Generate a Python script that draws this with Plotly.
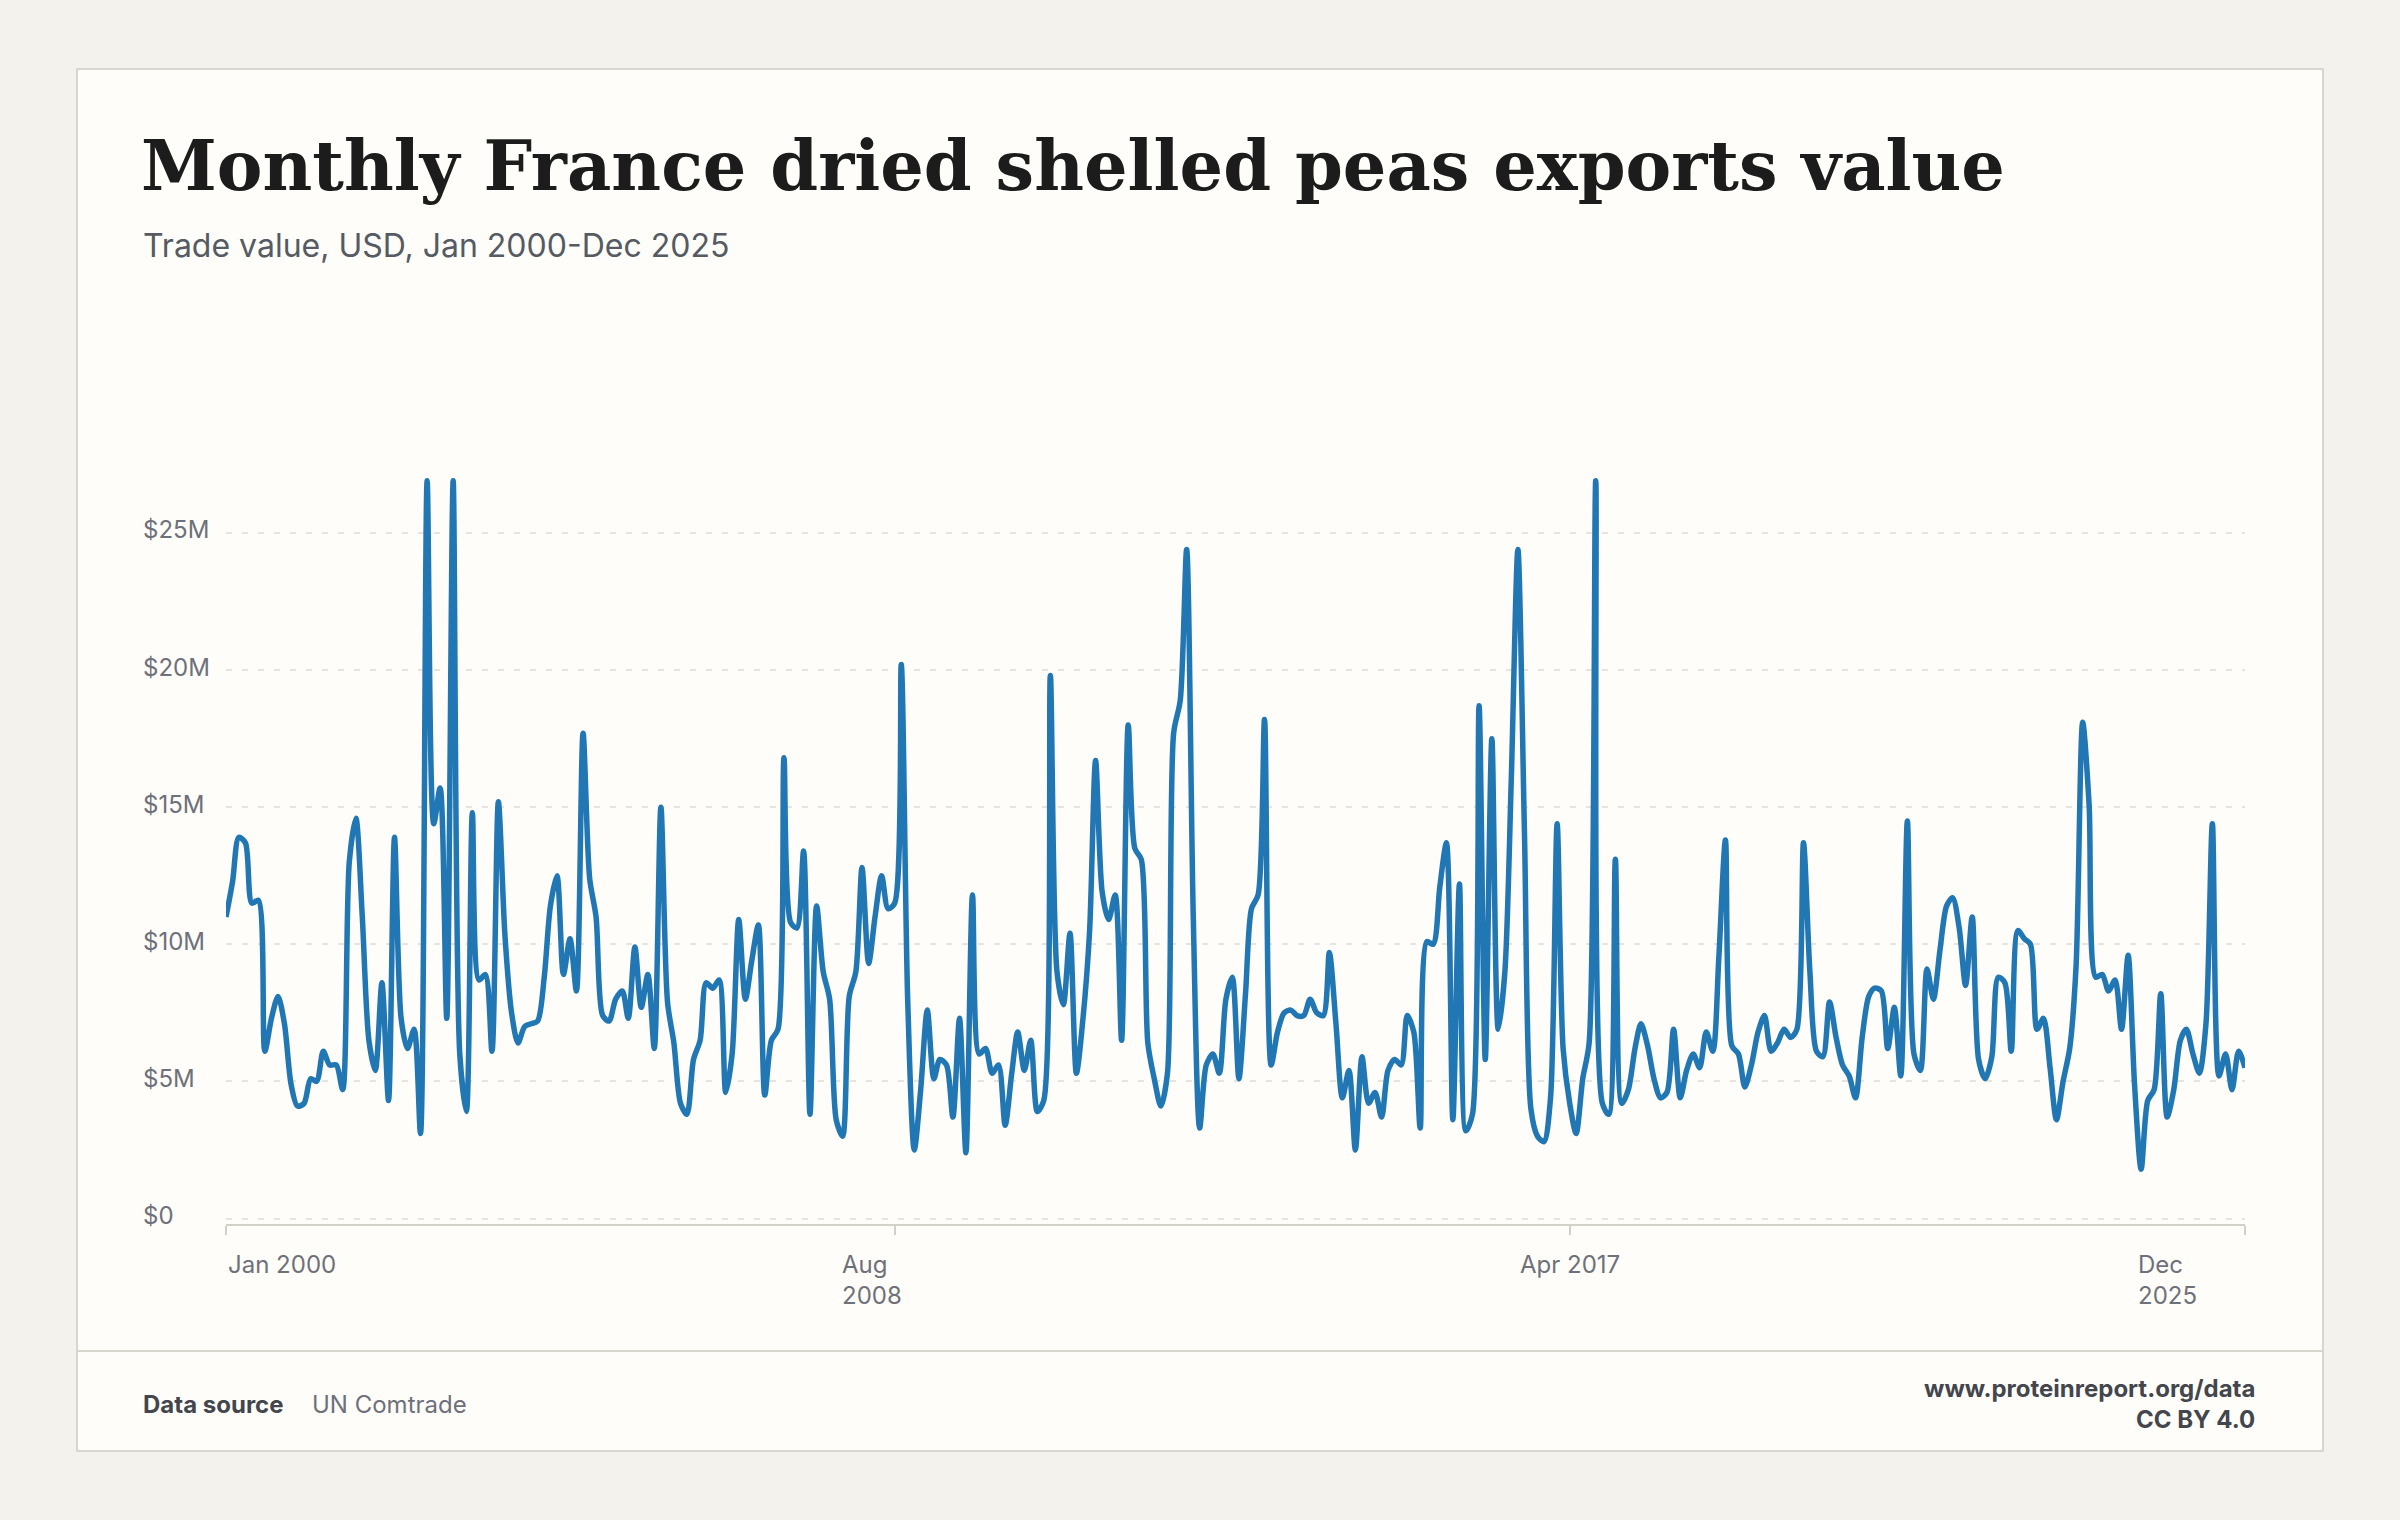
import pandas as pd
import plotly.graph_objects as go

# ---- data (USD millions), Jan 2000 .. Dec 2025 ----
start_month = "2000-01-01"
values_musd = [
    11.0, 12.3, 13.9, 13.7, 11.5, 11.6, 6.1, 7.3, 8.1, 7.1, 4.9, 4.1,      # 2000
    4.2, 5.1, 5.0, 6.1, 5.6, 5.6, 4.7, 13.0, 14.6, 11.0, 6.5, 5.4,         # 2001
    8.6, 4.3, 13.9, 7.3, 6.2, 6.9, 3.1, 26.9, 14.4, 15.7, 7.3, 26.9,       # 2002
    6.0, 3.9, 14.8, 8.7, 8.9, 6.1, 15.2, 10.3, 7.5, 6.4, 7.0, 7.1,         # 2003
    7.2, 8.8, 11.4, 12.5, 8.9, 10.2, 8.3, 17.7, 12.4, 11.0, 7.4, 7.2,      # 2004
    8.0, 8.3, 7.3, 9.9, 7.7, 8.9, 6.2, 15.0, 7.9, 6.4, 4.2, 3.8,           # 2005
    5.8, 6.5, 8.6, 8.4, 8.7, 4.6, 6.0, 10.9, 8.0, 9.4, 10.7, 4.5,          # 2006
    6.5, 6.9, 16.8, 10.8, 10.6, 13.4, 3.8, 11.4, 9.0, 8.0, 3.6, 3.0,       # 2007
    8.1, 9.0, 12.8, 9.3, 11.0, 12.5, 11.3, 11.5, 20.2, 8.0, 2.5, 4.7,      # 2008
    7.6, 5.1, 5.8, 5.6, 3.7, 7.3, 2.4, 11.8, 6.0, 6.2, 5.3, 5.6,           # 2009
    3.4, 5.3, 6.8, 5.4, 6.5, 3.9, 4.3, 19.8, 9.0, 7.8, 10.4, 5.3,          # 2010
    7.3, 10.5, 16.7, 11.9, 10.9, 11.8, 6.5, 18.0, 13.5, 13.1, 6.4, 5.1,    # 2011
    4.1, 5.3, 17.7, 18.9, 24.4, 11.0, 3.3, 5.6, 6.0, 5.3, 8.0, 8.8,        # 2012
    5.1, 8.2, 11.3, 11.8, 18.2, 5.6, 6.8, 7.5, 7.6, 7.4, 7.4, 8.0,         # 2013
    7.5, 7.4, 9.7, 7.1, 4.4, 5.4, 2.5, 5.9, 4.2, 4.6, 3.7, 5.4,            # 2014
    5.8, 5.6, 7.4, 6.8, 3.3, 10.1, 10.0, 12.1, 13.7, 3.6, 12.2, 3.2,       # 2015
    3.8, 18.7, 5.8, 17.5, 6.9, 9.0, 16.0, 24.4, 14.0, 4.0, 3.0, 2.8,       # 2016
    4.4, 14.4, 6.2, 4.2, 3.1, 5.1, 6.4, 26.9, 4.2, 3.8, 13.1, 4.2,         # 2017
    4.7, 6.2, 7.1, 6.3, 5.1, 4.4, 4.6, 6.9, 4.4, 5.4, 6.0, 5.5,            # 2018
    6.8, 6.1, 9.5, 13.8, 6.3, 6.0, 4.8, 5.6, 6.8, 7.4, 6.1, 6.4,           # 2019
    6.9, 6.6, 6.9, 13.7, 9.0, 6.1, 5.9, 7.9, 6.6, 5.6, 5.2, 4.4,           # 2020
    6.6, 8.1, 8.4, 8.3, 6.2, 7.7, 5.2, 14.5, 6.0, 5.4, 9.1, 8.0,           # 2021
    9.8, 11.4, 11.7, 10.6, 8.5, 11.0, 5.8, 5.1, 5.9, 8.8, 8.6, 6.1,        # 2022
    10.5, 10.2, 10.0, 6.9, 7.3, 5.5, 3.6, 5.0, 6.2, 9.2, 18.1, 15.1,       # 2023
    8.8, 8.9, 8.3, 8.7, 6.9, 9.6, 4.9, 1.8, 4.3, 4.7, 8.2, 3.7,            # 2024
    4.7, 6.5, 6.9, 6.0, 5.3, 7.1, 14.4, 5.2, 6.0, 4.7, 6.1, 5.5,           # 2025
]
months = pd.date_range(start_month, periods=len(values_musd), freq="MS")
values_usd = [v * 1e6 for v in values_musd]

y_tick_values = [0, 5e6, 10e6, 15e6, 20e6, 25e6]
y_tick_labels = ["$0", "$5M", "$10M", "$15M", "$20M", "$25M"]
x_tick_dates = ["2000-01-01", "2008-08-01", "2017-04-01", "2025-12-01"]
x_tick_labels = ["Jan 2000", "Aug<br>2008", "Apr 2017", "Dec<br>2025"]

title_text = "Monthly France dried shelled peas exports value"
subtitle_text = "Trade value, USD, Jan 2000-Dec 2025"

# ---- layout geometry (pixels) ----
W, H = 2400, 1520
ML, MR, MT, MB = 226, 155, 437, 296
PW, PH = W - ML - MR, H - MT - MB


def px(x):
    return (x - ML) / PW


def py(y):
    return (H - MB - y) / PH


OUTER_BG = "#f4f2ed"
CARD_BG = "#fefdf9"
BORDER = "#d9d6ce"
LINE = "#2077b4"
GRID = "#e7e4dd"
TICK_TXT = "#6e707a"
SANS = "Inter, Roboto, sans-serif"
SERIF = "DejaVu Serif, serif"

fig = go.Figure()
fig.add_trace(go.Scatter(
    x=months, y=values_usd, mode="lines",
    line=dict(color=LINE, width=5.5, shape="spline", smoothing=0.8),
    hoverinfo="skip", showlegend=False,
))

shapes = [
    # card
    dict(type="rect", xref="paper", yref="paper", layer="below",
         x0=px(77), x1=px(2323), y0=py(69), y1=py(1451),
         fillcolor=CARD_BG, line=dict(color=BORDER, width=2)),
    # footer divider
    dict(type="line", xref="paper", yref="paper", layer="below",
         x0=px(77), x1=px(2323), y0=py(1351), y1=py(1351),
         line=dict(color=BORDER, width=2)),
]

annotations = [
    dict(text="<b>" + title_text + "</b>", xref="paper", yref="paper", x=px(139), y=py(166),
         xanchor="left", yanchor="middle", showarrow=False,
         font=dict(family=SERIF, size=68.5, color="#1c1c1c")),
    dict(text=subtitle_text, xref="paper", yref="paper", x=px(141), y=py(246),
         xanchor="left", yanchor="middle", showarrow=False,
         font=dict(family=SANS, size=32, color="#555a63")),
    dict(text="<b>Data source</b>", xref="paper", yref="paper", x=px(141), y=py(1404),
         xanchor="left", yanchor="middle", showarrow=False,
         font=dict(family=SANS, size=24, color="#44464e")),
    dict(text="UN Comtrade", xref="paper", yref="paper", x=px(310), y=py(1404),
         xanchor="left", yanchor="middle", showarrow=False,
         font=dict(family=SANS, size=24, color="#6e707a")),
    dict(text="<b>www.proteinreport.org/data</b>", xref="paper", yref="paper",
         x=px(2257), y=py(1388), xanchor="right", yanchor="middle", showarrow=False,
         font=dict(family=SANS, size=24, color="#44464e")),
    dict(text="<b>CC BY 4.0</b>", xref="paper", yref="paper",
         x=px(2257), y=py(1419), xanchor="right", yanchor="middle", showarrow=False,
         font=dict(family=SANS, size=24, color="#44464e")),
]

for v, lab in zip(y_tick_values, y_tick_labels):
    annotations.append(dict(text=lab, xref="paper", yref="y", x=px(141), y=v,
                            xanchor="left", yanchor="middle", yshift=3, showarrow=False,
                            font=dict(family=SANS, size=24, color=TICK_TXT)))

x_shifts = [0, -55, 0, -109]
x_anchors = ["left", "left", "center", "left"]
for d, lab, sh, anc in zip(x_tick_dates, x_tick_labels, x_shifts, x_anchors):
    annotations.append(dict(text=lab, xref="x", yref="paper", x=d, y=py(1248),
                            xanchor=anc, yanchor="top", xshift=sh, align="left",
                            showarrow=False,
                            font=dict(family=SANS, size=24, color=TICK_TXT)))

fig.update_layout(
    width=W, height=H,
    margin=dict(l=ML, r=MR, t=MT, b=MB, pad=0),
    paper_bgcolor=OUTER_BG, plot_bgcolor=CARD_BG,
    shapes=shapes, annotations=annotations,
    xaxis=dict(
        type="date", range=[x_tick_dates[0], x_tick_dates[-1]],
        tickvals=x_tick_dates, showticklabels=False,
        ticks="outside", ticklen=9, tickwidth=2, tickcolor="#d3d0c8",
        showline=True, linecolor="#d3d0c8", linewidth=2,
        showgrid=False, zeroline=False, fixedrange=True,
    ),
    yaxis=dict(
        range=[-0.2e6, 28.5e6], tickvals=y_tick_values, showticklabels=False,
        showgrid=True, gridcolor=GRID, gridwidth=1.5, griddash="6px,10px",
        zeroline=False, showline=False, ticks="", fixedrange=True,
    ),
)

fig.write_html("out.html")
